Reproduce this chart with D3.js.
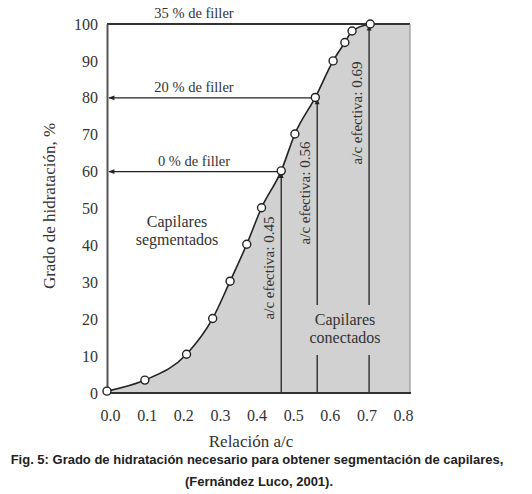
<!DOCTYPE html>
<html>
<head>
<meta charset="utf-8">
<script src="https://cdn.jsdelivr.net/npm/d3@7"></script>
<style>
  body { margin: 0; background: #fff; }
  text { font-family: "Liberation Serif", "Times New Roman", serif; fill: #333; }
  .caption { font-family: "Liberation Sans", Arial, sans-serif; font-weight: bold; fill: #222; }
</style>
</head>
<body>
<div id="chart"></div>
<script>
// puntos (relacion a/c, grado de hidratacion %)
var acValues = [0, 0.1, 0.21, 0.279, 0.325, 0.369, 0.408, 0.46, 0.496, 0.55, 0.597, 0.628, 0.647, 0.695];
var hydration = [0.5, 3.5, 10.5, 20.2, 30.3, 40.3, 50.2, 60.2, 70.2, 80.1, 90, 95, 98.1, 100];

// flechas de a/c efectiva
var effPos = [0.46, 0.555, 0.692];
var effHyd = [60, 80, 100];
var effLabels = ['a/c efectiva: 0.45', 'a/c efectiva: 0.56', 'a/c efectiva: 0.69'];
var fillerLabels = ['0 % de filler', '20 % de filler', '35 % de filler'];

var xTicks = [0, 0.1, 0.2, 0.3, 0.4, 0.5, 0.6, 0.7, 0.8];
var yTicks = [0, 10, 20, 30, 40, 50, 60, 70, 80, 90, 100];

var W = 532, H = 494;
var pL = 107, pT = 24, pR = 410, pB = 393;

var svg = d3.select('#chart').append('svg')
    .attr('width', W)
    .attr('height', H);

var x = d3.scaleLinear().domain([0, 0.8]).range([pL, pR]);
// las etiquetas del eje x no caen justo sobre la escala en el original
var xLab = d3.scaleLinear().domain([0, 0.8]).range([110, 403]);
var y = d3.scaleLinear().domain([0, 100]).range([pB, pT]);

var pts = acValues.map(function(d, i) { return [d, hydration[i]]; });

// area gris bajo la curva
var areaPts = pts.concat([[0.8, 100]]);
svg.append('path')
    .datum(areaPts)
    .attr('fill', '#d1d1d1')
    .attr('d', d3.area()
        .x(function(d) { return x(d[0]); })
        .y0(y(0))
        .y1(function(d) { return y(d[1]); })
        .curve(d3.curveMonotoneX));

// marcador de flecha
svg.append('defs').append('marker')
    .attr('id', 'arr')
    .attr('viewBox', '0 0 10 10')
    .attr('refX', 9).attr('refY', 5)
    .attr('markerWidth', 7).attr('markerHeight', 6)
    .attr('markerUnits', 'userSpaceOnUse')
    .attr('orient', 'auto')
    .append('path')
    .attr('d', 'M0,1 L10,5 L0,9 Z')
    .attr('fill', '#222');

// flechas horizontales (filler)
svg.selectAll('.hline')
    .data(effPos.slice(0, 2))
    .enter().append('line')
    .attr('class', 'hline')
    .attr('x1', function(d) { return x(d); })
    .attr('x2', pL + 2)
    .attr('y1', function(d, i) { return y(effHyd[i]); })
    .attr('y2', function(d, i) { return y(effHyd[i]); })
    .attr('stroke', '#222')
    .attr('stroke-width', 1.3)
    .attr('marker-end', 'url(#arr)');

svg.selectAll('.flab')
    .data(fillerLabels)
    .enter().append('text')
    .attr('class', 'flab')
    .attr('x', 194)
    .attr('y', function(d, i) { return y(effHyd[i]) - 6; })
    .attr('text-anchor', 'middle')
    .style('font-size', '14.5px')
    .text(function(d) { return d; });

// flechas verticales (a/c efectiva); las dos ultimas cortadas por el texto
var gapTop = 305, gapBot = 355;
effPos.forEach(function(d, i) {
    var segs = i === 0 ? [[y(0), y(effHyd[i]) + 1]] : [[y(0), gapBot], [gapTop, y(effHyd[i]) + 1]];
    segs.forEach(function(s, j) {
        svg.append('line')
            .attr('x1', x(d)).attr('x2', x(d))
            .attr('y1', s[0]).attr('y2', s[1])
            .attr('stroke', '#222')
            .attr('stroke-width', 1.3)
            .attr('marker-end', j === segs.length - 1 ? 'url(#arr)' : null);
    });
});

svg.selectAll('.elab')
    .data(effLabels)
    .enter().append('text')
    .attr('class', 'elab')
    .attr('transform', function(d, i) {
        var cy = [268, 193, 113][i];
        return 'translate(' + (x(effPos[i]) - 7) + ',' + cy + ') rotate(-90)';
    })
    .attr('text-anchor', 'middle')
    .style('font-size', '15px')
    .text(function(d) { return d; });

// curva
svg.append('path')
    .datum(pts)
    .attr('fill', 'none')
    .attr('stroke', '#222')
    .attr('stroke-width', 1.6)
    .attr('d', d3.line()
        .x(function(d) { return x(d[0]); })
        .y(function(d) { return y(d[1]); })
        .curve(d3.curveMonotoneX));

// marco
svg.append('line')
    .attr('x1', pL).attr('x2', pR).attr('y1', pT).attr('y2', pT)
    .attr('stroke', '#333').attr('stroke-width', 2.2);
svg.append('line')
    .attr('x1', pR).attr('x2', pR).attr('y1', pT).attr('y2', pB)
    .attr('stroke', '#888').attr('stroke-width', 1);

// ejes
var yAxis = svg.append('g')
    .attr('transform', 'translate(' + pL + ',0)')
    .call(d3.axisLeft(y).tickValues(yTicks).tickSize(0).tickPadding(9));
yAxis.select('.domain').attr('stroke', '#555').attr('stroke-width', 2);
yAxis.selectAll('text')
    .style('font-family', '"Liberation Serif", serif')
    .style('font-size', '16px')
    .attr('fill', '#333');

svg.append('line')
    .attr('x1', pL - 1).attr('x2', pR + 1).attr('y1', pB).attr('y2', pB)
    .attr('stroke', '#333').attr('stroke-width', 2.2);

var xAxis = svg.append('g')
    .attr('transform', 'translate(0,' + (pB + 8) + ')')
    .call(d3.axisBottom(xLab).tickValues(xTicks).tickFormat(d3.format('.1f')).tickSize(0).tickPadding(9));
xAxis.select('.domain').remove();
xAxis.selectAll('text')
    .style('font-family', '"Liberation Serif", serif')
    .style('font-size', '16px')
    .attr('fill', '#333');

// puntos
svg.selectAll('.pt')
    .data(pts)
    .enter().append('circle')
    .attr('class', 'pt')
    .attr('cx', function(d) { return x(d[0]); })
    .attr('cy', function(d) { return y(d[1]); })
    .attr('r', 4)
    .attr('fill', '#fff')
    .attr('stroke', '#222')
    .attr('stroke-width', 1.4);

// textos de regiones
function twoLines(cx, y1, a, b) {
    svg.append('text').attr('x', cx).attr('y', y1)
        .attr('text-anchor', 'middle').style('font-size', '16px').text(a);
    svg.append('text').attr('x', cx).attr('y', y1 + 17.5)
        .attr('text-anchor', 'middle').style('font-size', '16px').text(b);
}
twoLines(177, 227, 'Capilares', 'segmentados');
twoLines(345, 325, 'Capilares', 'conectados');

// titulos de ejes
svg.append('text')
    .attr('transform', 'translate(55,206) rotate(-90)')
    .attr('text-anchor', 'middle')
    .style('font-size', '17px')
    .text('Grado de hidratación, %');

svg.append('text')
    .attr('x', 251)
    .attr('y', 447)
    .attr('text-anchor', 'middle')
    .style('font-size', '17px')
    .text('Relación a/c');

// pie de figura
svg.append('text')
    .attr('class', 'caption')
    .attr('x', 257).attr('y', 464)
    .attr('text-anchor', 'middle')
    .style('font-size', '13px')
    .text('Fig. 5: Grado de hidratación necesario para obtener segmentación de capilares,');
svg.append('text')
    .attr('class', 'caption')
    .attr('x', 259).attr('y', 486)
    .attr('text-anchor', 'middle')
    .style('font-size', '13px')
    .text('(Fernández Luco, 2001).');
</script>
</body>
</html>
